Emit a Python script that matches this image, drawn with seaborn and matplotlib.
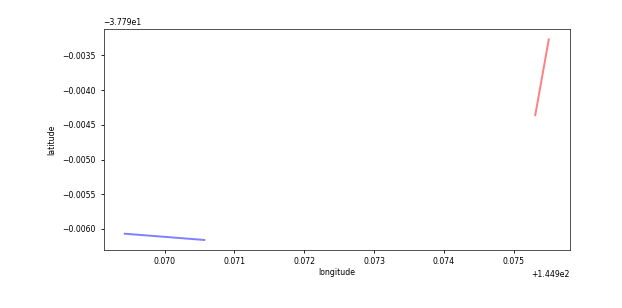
import matplotlib
matplotlib.use("Agg")
import matplotlib.pyplot as plt
import seaborn as sns
import pandas as pd

blue_lon = [144.969431, 144.970569]
blue_lat = [-37.796068, -37.796158]
red_lon = [144.975309, 144.975503]
red_lat = [-37.794362, -37.793270]

plt.rcParams['font.size'] = 5.6
fig = plt.figure(figsize=(6.22, 3.08), dpi=100)
ax = fig.add_axes([103.6/622, 1-250/308, (570-103.6)/622, (250-29.3)/308])

df_b = pd.DataFrame({"longitude": blue_lon, "latitude": blue_lat})
df_r = pd.DataFrame({"longitude": red_lon, "latitude": red_lat})
sns.lineplot(data=df_b, x="longitude", y="latitude", sort=False, color="blue", alpha=0.5, linewidth=1.4, ax=ax)
sns.lineplot(data=df_r, x="longitude", y="latitude", sort=False, color="red", alpha=0.5, linewidth=1.4, ax=ax)

ax.tick_params(labelsize=5.6, length=2.5, width=0.6)
ax.tick_params(axis="x", pad=2.6)
for s in ax.spines.values():
    s.set_linewidth(0.6)
    s.set_color("#333333")
ax.set_xlabel("longitude", fontsize=5.6, labelpad=1.5)
ax.set_ylabel("latitude", fontsize=5.6)
ax.xaxis.get_offset_text().set_size(5.6)
ax.yaxis.get_offset_text().set_size(5.6)

fig.savefig("out.png", dpi=100)
